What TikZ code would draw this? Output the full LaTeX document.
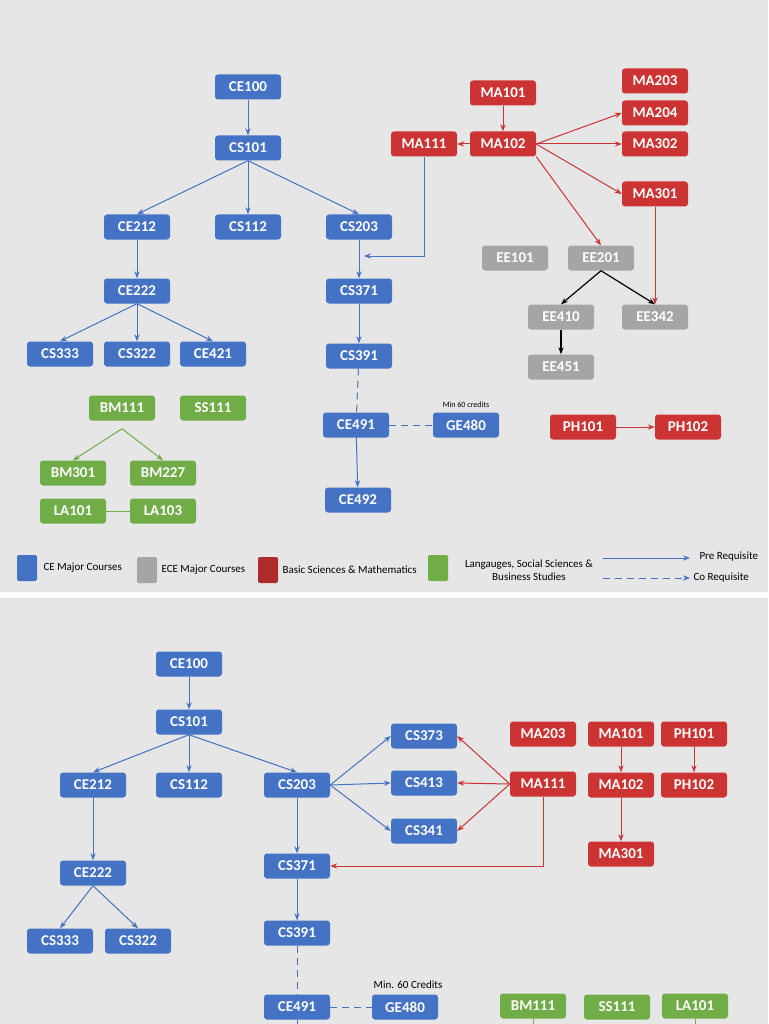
\documentclass[tikz,border=0pt]{standalone}
\usepackage{fontspec}
\setmainfont{Carlito}
\usetikzlibrary{arrows.meta}
\definecolor{cb}{HTML}{4472C4}
\definecolor{cr}{HTML}{CC3333}
\definecolor{cg}{HTML}{A5A5A5}
\definecolor{cgr}{HTML}{70AD47}
\definecolor{bgc}{HTML}{E6E6E6}
\tikzset{
 box/.style={rounded corners=3pt,minimum width=66pt,minimum height=25pt,text=white,font=\fontsize{15}{17}\selectfont\bfseries,inner sep=2pt},
 bb/.style={box,fill=cb}, rb/.style={box,fill=cr}, gb/.style={box,fill=cg}, vb/.style={box,fill=cgr},
 pb/.style={draw=cb,line width=1pt,-{Stealth[length=7pt]}},
 pr/.style={draw=cr,line width=1pt,-{Stealth[length=7pt]}},
 pk/.style={draw=black,line width=1.2pt,-{Stealth[length=7pt]}},
 pg/.style={draw=cgr,line width=1pt},
 db/.style={draw=cb,line width=1pt,dash pattern=on 7pt off 5pt},
 lg/.style={font=\fontsize{11}{13}\selectfont,align=center}
}
\begin{document}
\begin{tikzpicture}[x=1pt,y=-1pt]
\fill[white] (0,0) rectangle (768,1024);
\fill[bgc] (0,0) rectangle (768,592);
\fill[bgc] (0,598) rectangle (768,1024);
\useasboundingbox (0,0) rectangle (768,1024);
% top panel
\node[bb] (a100) at (248,87) {CE100};
\node[bb] (a101) at (248,148) {CS101};
\node[bb] (a212) at (137,227) {CE212};
\node[bb] (a112) at (248,227) {CS112};
\node[bb] (a203) at (359,227) {CS203};
\node[bb] (a222) at (137,291) {CE222};
\node[bb] (a333) at (60,354) {CS333};
\node[bb] (a322) at (137,354) {CS322};
\node[bb] (a421) at (213,354) {CE421};
\node[bb] (a371) at (359,291) {CS371};
\node[bb] (a391) at (359,356) {CS391};
\node[bb] (a491) at (356,425) {CE491};
\node[bb] (a480) at (466,425) {GE480};
\node[font=\fontsize{8}{9}\selectfont] (amin) at (466,405) {Min 60 credits};
\node[bb] (a492) at (358,500) {CE492};
\node[rb] (m101) at (503,93) {MA101};
\node[rb] (m102) at (503,144) {MA102};
\node[rb] (m111) at (424,144) {MA111};
\node[rb] (m203) at (655,81) {MA203};
\node[rb] (m204) at (655,113) {MA204};
\node[rb] (m302) at (655,144) {MA302};
\node[rb] (m301) at (655,194) {MA301};
\node[gb] (e101) at (515,258) {EE101};
\node[gb] (e201) at (601,258) {EE201};
\node[gb] (e410) at (561,317) {EE410};
\node[gb] (e342) at (655,317) {EE342};
\node[gb] (e451) at (561,367) {EE451};
\node[rb] (p101) at (583,427) {PH101};
\node[rb] (p102) at (688,427) {PH102};
\node[vb] (b111) at (122,408) {BM111};
\node[vb] (s111) at (213,408) {SS111};
\node[vb] (b301) at (73,473) {BM301};
\node[vb] (b227) at (163,473) {BM227};
\node[vb] (l101) at (73,511) {LA101};
\node[vb] (l103) at (163,511) {LA103};
\draw[pb] (a100) -- (a101);
\draw[pb] (a101.south) -- (a212.north);
\draw[pb] (a101.south) -- (a112.north);
\draw[pb] (a101.south) -- (a203.north);
\draw[pb] (a212) -- (a222);
\draw[pb] (a222.south) -- (a333.north);
\draw[pb] (a222.south) -- (a322.north);
\draw[pb] (a222.south) -- (a421.north);
\draw[pb] (a203) -- (a371);
\draw[pb] (a371) -- (a391);
\draw[db] (a391) -- (a491);
\draw[db] (a491) -- (a480);
\draw[pb] (a491) -- (a492);
\coordinate (k1) at (424,256);
\coordinate (k1e) at (364,256);
\draw[pb] (m111.south) -- (k1) -- (k1e);
\draw[pr] (m101) -- (m102);
\draw[pr] (m102) -- (m111);
\draw[pr] (m102.east) -- (m204.west);
\draw[pr] (m102.east) -- (m302.west);
\draw[pr] (m102.east) -- (m301.west);
\draw[pr] (m102.south east) -- (e201.north);
\draw[pr] (m301.south) -- (e342.north);
\draw[pk] (e201.south) -- (e410.north);
\draw[pk] (e201.south) -- (e342.north);
\draw[pk] (e410) -- (e451);
\draw[pr] (p101) -- (p102);
\draw[pg,-{Stealth[length=7pt]}] (b111.south) ++(0,8) coordinate (g1) -- (b301.north);
\draw[pg,-{Stealth[length=7pt]}] (g1) -- (b227.north);
\draw[pg] (l101) -- (l103);
% legend
\node[fill=cb,rounded corners=2pt,minimum width=20pt,minimum height=26pt] (lgb) at (27,568) {};
\node[lg,anchor=west] (lgbt) at (40,568) {CE Major Courses};
\node[fill=cg,rounded corners=2pt,minimum width=20pt,minimum height=26pt] (lgg) at (147,570) {};
\node[lg,anchor=west] (lggt) at (158,570) {ECE Major Courses};
\node[fill=cr!85!black,rounded corners=2pt,minimum width=20pt,minimum height=26pt] (lgr) at (268,570) {};
\node[lg,anchor=west] (lgrt) at (279,570) {Basic Sciences \& Mathematics};
\node[fill=cgr,rounded corners=2pt,minimum width=20pt,minimum height=26pt] (lgv) at (438,568) {};
\node[lg] (lgvt) at (529,570) {Langauges, Social Sciences \&\\Business Studies};
\coordinate (q1) at (603,558); \coordinate (q2) at (690,558);
\coordinate (q3) at (603,578); \coordinate (q4) at (690,578);
\draw[pb] (q1) -- (q2);
\draw[db,-{Stealth[length=7pt]}] (q3) -- (q4);
\node[lg,anchor=west] (lpr) at (696,557) {Pre Requisite};
\node[lg,anchor=west] (lco) at (690,578) {Co Requisite};
% bottom panel
\node[bb] (c100) at (189,664) {CE100};
\node[bb] (c101) at (189,722) {CS101};
\node[bb] (c212) at (93,785) {CE212};
\node[bb] (c112) at (189,785) {CS112};
\node[bb] (c203) at (297,785) {CS203};
\node[bb] (c222) at (93,873) {CE222};
\node[bb] (c333) at (60,941) {CS333};
\node[bb] (c322) at (138,941) {CS322};
\node[bb] (c371) at (297,866) {CS371};
\node[bb] (c391) at (297,933) {CS391};
\node[bb] (c491) at (297,1007) {CE491};
\node[bb] (c480) at (405,1007) {GE480};
\node[font=\fontsize{11}{13}\selectfont] (cmin) at (408,985) {Min. 60 Credits};
\node[bb] (c373) at (424,736) {CS373};
\node[bb] (c413) at (424,783) {CS413};
\node[bb] (c341) at (424,831) {CS341};
\node[rb] (n203) at (543,734) {MA203};
\node[rb] (n111) at (543,784) {MA111};
\node[rb] (n101) at (621,734) {MA101};
\node[rb] (n102) at (621,785) {MA102};
\node[rb] (n301) at (621,854) {MA301};
\node[rb] (o101) at (694,734) {PH101};
\node[rb] (o102) at (694,785) {PH102};
\node[vb] (d111) at (533,1006) {BM111};
\node[vb] (d211) at (617,1007) {SS111};
\node[vb] (d101) at (695,1006) {LA101};
\draw[pb] (c100) -- (c101);
\draw[pb] (c101.south) -- (c212.north);
\draw[pb] (c101.south) -- (c112.north);
\draw[pb] (c101.south) -- (c203.north);
\draw[pb] (c212) -- (c222);
\draw[pb] (c222.south) -- (c333.north);
\draw[pb] (c222.south) -- (c322.north);
\draw[pb] (c203) -- (c371);
\draw[pb] (c203.east) -- (c373.west);
\draw[pb] (c203.east) -- (c413.west);
\draw[pb] (c203.east) -- (c341.west);
\draw[pr] (n111.west) -- (c373.east);
\draw[pr] (n111.west) -- (c413.east);
\draw[pr] (n111.west) -- (c341.east);
\coordinate (k2) at (543,866);
\draw[pr] (n111.south) -- (k2) -- (c371.east);
\draw[pb] (c371) -- (c391);
\draw[db] (c391) -- (c491);
\draw[db] (c491) -- (c480);
\coordinate (z1) at (297,1024);
\draw[draw=cb,line width=1pt] (c491) -- (z1);
\draw[pr] (n101) -- (n102);
\draw[pr] (n102) -- (n301);
\draw[pr] (o101) -- (o102);
\coordinate (z2) at (533,1024); \coordinate (z3) at (695,1024);
\draw[pg] (d111.south) -- (z2);
\draw[pg] (d101.south) -- (z3);
\end{tikzpicture}
\end{document}
